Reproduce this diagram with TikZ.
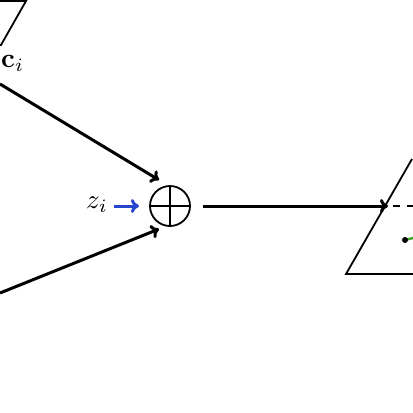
\documentclass[tikz,border=0pt]{standalone}
\usepackage{graphicx}
\usetikzlibrary{arrows.meta}
\definecolor{zblue}{RGB}{40,70,205}
\definecolor{vgreen}{RGB}{60,170,40}
\newcommand{\biglab}[1]{\scalebox{2.7}{#1}}
\begin{document}
\begin{tikzpicture}[x=1pt,y=-1pt,
  lab/.style={inner sep=0pt,anchor=base west},
  conn/.style={line width=3pt,-{To[length=8pt,width=14pt]}},
  plane/.style={line width=1.8pt,line join=miter}]
\useasboundingbox (0,0) rectangle (413,413);
\begin{scope}
\clip (0,0) rectangle (413,413);
% left plane (partly out of view)
\draw[plane] (-60,1) -- (26,1) -- (1,45) -- (-80,45);
% right plane
\draw[plane] (430,274) -- (346,274) -- (412,159);
\end{scope}
\node[lab] (c) at (1,67) {\biglab{$\mathbf{c}_i$}};
\node[circle,draw,line width=1.8pt,minimum size=40pt,inner sep=0pt] (p) at (170,206) {};
\draw[line width=1.8pt] (p.north) -- (p.south) (p.west) -- (p.east);
\node[lab] (z) at (86,208) {\biglab{$z_i$}};
\coordinate (a1) at (0,84);
\coordinate (a2) at (0,293);
\coordinate (t1) at (159,180);
\coordinate (t2) at (159,229);
\coordinate (m) at (388,206);
\coordinate (e) at (413,206);
\coordinate (g) at (405,240);
\coordinate (ge) at (413,238);
\draw[conn] (a1) -- (t1);
\draw[conn] (a2) -- (t2);
\draw[conn] (p.east) ++(12,0) -- (m);
\draw[line width=2.2pt,dash pattern=on 7pt off 7pt] (m) ++(5,0) -- (e);
\draw[conn,zblue] (z.east |- p.center) ++(6,0) -- ++(25,0) coordinate (zt);
\draw[vgreen,line width=2.4pt] (g) -- (ge);
\fill[black] (g) circle (3pt);
\end{tikzpicture}
\end{document}
